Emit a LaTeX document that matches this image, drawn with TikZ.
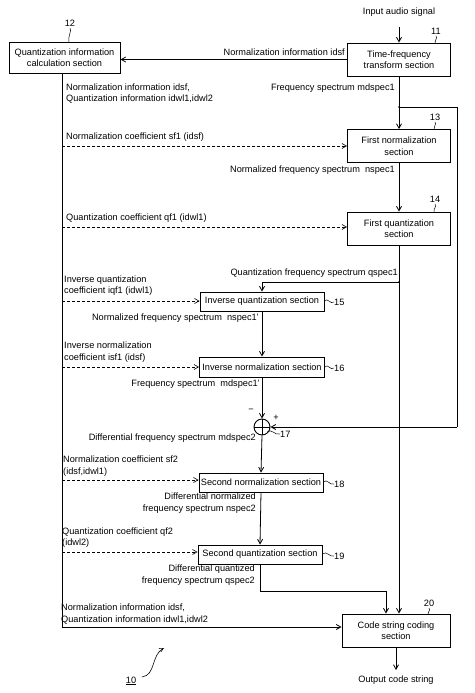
\documentclass[tikz,border=0pt]{standalone}
\usepackage{fontspec}
\setmainfont{Liberation Sans}
\usetikzlibrary{arrows.meta}
\begin{document}
\begin{tikzpicture}[x=1pt,y=-1pt,
  font=\fontsize{9.2}{11.5}\selectfont,
  box/.style={draw,line width=0.9pt,align=center,inner sep=1pt},
  conn/.style={line width=0.8pt,-{Straight Barb[length=4.5pt,width=5pt]}},
  plain/.style={line width=0.8pt},
  dconn/.style={line width=0.6pt,dash pattern=on 3pt off 2pt,-{Straight Barb[length=4.5pt,width=5pt]}},
  lbl/.style={inner sep=0pt,align=left},
  rlbl/.style={inner sep=0pt,align=right},
  lead/.style={line width=0.5pt}]
\useasboundingbox (0,0) rectangle (474,693);
% boxes
\node[box,minimum width=103pt,minimum height=33pt] (b11) at (399,59.5) {Time-frequency\\transform section};
\node[box,minimum width=111pt,minimum height=31pt] (b12) at (64.5,57.5) {Quantization information\\calculation section};
\node[box,minimum width=103pt,minimum height=33pt] (b13) at (399,146) {First normalization\\section};
\node[box,minimum width=103pt,minimum height=33pt] (b14) at (399,228.5) {First quantization\\section};
\node[box,minimum width=124pt,minimum height=19pt] (b15) at (262,301.5) {Inverse quantization section};
\node[box,minimum width=125pt,minimum height=20pt] (b16) at (262,367) {Inverse normalization section};
\node[draw,circle,line width=0.9pt,minimum size=16pt,inner sep=0pt] (add) at (262,427) {};
\draw[line width=0.8pt] (add.north) -- (add.south) (add.west) -- (add.east);
\node[box,minimum width=124pt,minimum height=19pt] (b18) at (261,482.5) {Second normalization section};
\node[box,minimum width=124pt,minimum height=19pt] (b19) at (260,554.5) {Second quantization section};
\node[box,minimum width=108pt,minimum height=33pt] (b20) at (396,630.5) {Code string coding\\section};
% input / output
\node[inner sep=0pt] (inp) at (399,12) {Input audio signal};
\coordinate (inTop) at (399,27);
\draw[conn] (inTop) -- (b11.north);
\coordinate (outEnd) at (396,670);
\draw[conn] (b20.south) -- (outEnd);
\node[inner sep=0pt] (outp) at (396,680) {Output code string};
% 11 -> 12
\draw[conn] (b11.west) -- (b12.east |- b11.west);
\node[lbl,anchor=east] (l1) at (345,52) {Normalization information idsf};
% main line
\draw[conn] (b11.south) -- (b13.north);
\node[rlbl,anchor=east] (l2) at (395,88) {Frequency spectrum mdspec1};
\draw[conn] (b13.south) -- (b14.north);
\node[rlbl,anchor=east] (l3) at (395,170) {Normalized frequency spectrum~~nspec1};
\draw[conn] (b14.south) -- (b14.south |- b20.north);
% feedback branch
\coordinate (j1) at (399,107);
\coordinate (r1) at (457,107);
\coordinate (r2) at (457,427);
\fill (j1) circle (1pt);
\draw[plain] (j1) -- (r1) -- (r2);
\draw[conn] (r2) -- (add.east);
\node[inner sep=0pt] (plus) at (276,418) {+};
\node[inner sep=0pt] (minus) at (251,411) {\textminus};
% qspec1 branch
\coordinate (j2) at (399,282);
\coordinate (k2) at (262,282);
\fill (j2) circle (1pt);
\draw[plain] (j2) -- (k2);
\draw[conn] (k2) -- (b15.north);
\node[lbl,anchor=east] (l4) at (398,273) {Quantization frequency spectrum qspec1};
% inner column
\draw[conn] (b15.south) -- (b16.north);
\node[rlbl,anchor=east] (l5) at (259,318) {Normalized frequency spectrum~~nspec1'};
\draw[conn] (b16.south) -- (add.north);
\node[rlbl,anchor=east] (l6) at (260,384) {Frequency spectrum~~mdspec1'};
\draw[conn] (add.south) -- (b18.north);
\node[rlbl,anchor=east] (l7) at (256,438) {Differential frequency spectrum mdspec2};
\draw[conn] (b18.south) -- (b19.north);
\node[rlbl,anchor=east] (l8) at (256,503) {Differential normalized\\frequency spectrum nspec2};
\coordinate (q1) at (260,591);
\coordinate (q2) at (386,591);
\draw[plain] (b19.south) -- (q1) -- (q2);
\draw[conn] (q2) -- (q2 |- b20.north);
\node[rlbl,anchor=east] (l9) at (255,575) {Differential quantized\\frequency spectrum qspec2};
% left line
\coordinate (L0) at (62,73);
\coordinate (Lb) at (62,627);
\draw[plain] (b12.south -| L0) -- (Lb);
\draw[conn] (Lb) -- (b20.west |- Lb);
\node[lbl,anchor=west] (l10) at (66,93.5) {Normalization information idsf,\\Quantization information idwl1,idwl2};
\node[lbl,anchor=west] (l11) at (61,614) {Normalization information idsf,\\Quantization information idwl1,idwl2};
% dashed
\coordinate (d1) at (62,146);
\draw[dconn] (d1) -- (b13.west |- d1);
\node[lbl,anchor=west] (l12) at (66,137) {Normalization coefficient sf1 (idsf)};
\coordinate (d2) at (62,227);
\draw[dconn] (d2) -- (b14.west |- d2);
\node[lbl,anchor=west] (l13) at (66,218) {Quantization coefficient qf1 (idwl1)};
\coordinate (d3) at (62,301);
\draw[dconn] (d3) -- (b15.west |- d3);
\node[lbl,anchor=west] (l14) at (64,285.5) {Inverse quantization\\coefficient iqf1 (idwl1)};
\coordinate (d4) at (62,367);
\draw[dconn] (d4) -- (b16.west |- d4);
\node[lbl,anchor=west] (l15) at (64,352) {Inverse normalization\\coefficient isf1 (idsf)};
\coordinate (d5) at (62,480);
\draw[dconn] (d5) -- (b18.west |- d5);
\node[lbl,anchor=west] (l16) at (63,466) {Normalization coefficient sf2\\(idsf,idwl1)};
\coordinate (d6) at (62,552);
\draw[dconn] (d6) -- (b19.west |- d6);
\node[lbl,anchor=west] (l17) at (62,537.5) {Quantization coefficient qf2\\(idwl2)};
% reference numbers
\node[inner sep=0pt] (n11) at (436,31) {11};
\draw[lead] (436,36) .. controls (438,39) and (434,40) .. (435,43);
\node[inner sep=0pt] (n12) at (70,23) {12};
\draw[lead] (70,28) .. controls (72,32) and (68,34) .. (69,42);
\node[inner sep=0pt] (n13) at (435,117) {13};
\draw[lead] (435,122) .. controls (437,125) and (433,126) .. (434,129.5);
\node[inner sep=0pt] (n14) at (435,199) {14};
\draw[lead] (435,204) .. controls (437,207) and (433,209) .. (434,212);
\node[inner sep=0pt] (n20) at (429,603) {20};
\draw[lead] (429,608) .. controls (431,611) and (427,612) .. (428,614);
\node[lbl,anchor=west] (n15) at (334,302) {15};
\draw[lead] (b15.east |- 0,301) .. controls (328,297) and (330,305) .. (334,302);
\node[lbl,anchor=west] (n16) at (334,368) {16};
\draw[lead] (b16.east |- 0,367) .. controls (328,363) and (330,371) .. (334,368);
\node[lbl,anchor=west] (n18) at (334,484) {18};
\draw[lead] (b18.east |- 0,482) .. controls (327,478) and (330,486) .. (334,484);
\node[lbl,anchor=west] (n19) at (334,556) {19};
\draw[lead] (b19.east |- 0,554) .. controls (327,550) and (330,558) .. (334,556);
\node[lbl,anchor=west] (n17) at (280,434) {17};
\draw[lead] (267,432) .. controls (272,428) and (275,436) .. (280,434);
% 10
\node[inner sep=0pt] (n10) at (131,681) {\underline{10}};
\coordinate (c10a) at (142,677);
\coordinate (c10b) at (164,648);
\draw[line width=0.6pt,-{Straight Barb[length=4pt,width=4pt]}] (c10a) .. controls (156,675) and (151,655) .. (c10b);
\end{tikzpicture}
\end{document}
